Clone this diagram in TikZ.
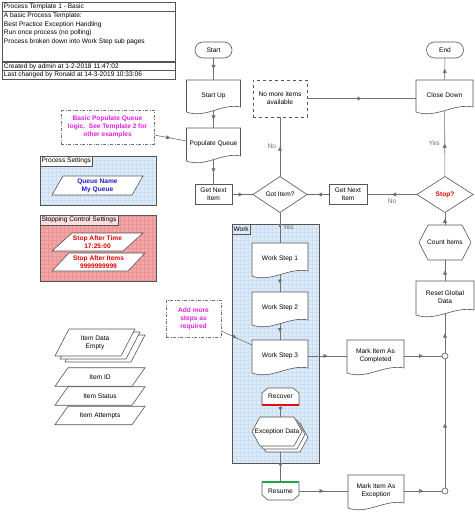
\documentclass[tikz,border=0pt]{standalone}
\usepackage{fontspec}
\setmainfont{Liberation Sans}
\usetikzlibrary{calc,decorations.markings,arrows.meta}
\pgfdeclarelayer{back}
\pgfdeclarelayer{mid}
\pgfsetlayers{back,mid,main}
\definecolor{lineg}{HTML}{707070}
\definecolor{shpg}{HTML}{555555}
\definecolor{bluef}{HTML}{DDEAF8}
\definecolor{blueg}{HTML}{CCDEF3}
\definecolor{pinkf}{HTML}{F4A5A5}
\definecolor{pinkg}{HTML}{EA9595}
\definecolor{magt}{HTML}{E020E0}
\definecolor{bluet}{HTML}{2020C0}
\definecolor{redt}{HTML}{E00000}
\definecolor{lblg}{HTML}{707070}
\definecolor{greenb}{HTML}{22A04A}
\definecolor{redb}{HTML}{E01010}
\tikzset{
  base/.style={inner sep=0pt, outer sep=0pt, align=center, font=\fontsize{6.6}{8}\selectfont},
  sz/.style 2 args={minimum width=#1pt, minimum height=#2pt},
  shp/.style={draw=shpg, fill=white, line width=0.6pt},
  txtb/.style={base, font=\fontsize{6.6}{8}\selectfont\bfseries},
  conn/.style={draw=lineg, line width=0.6pt},
  marr/.style={conn, postaction={decorate}, decoration={markings, mark=at position 0.5 with {\arrow[lineg]{Triangle[length=4pt,width=4pt]}}}},
  lbl/.style={base, text=lblg},
  ib/.style={draw=shpg, line width=0.6pt},
  itxt/.style={base, anchor=west},
  gridl/.style={line width=0.2pt, step=4pt},
  notebox/.style={base, draw=lineg, dash pattern=on 3pt off 1.5pt on 1pt off 1.5pt, line width=0.6pt, fill=white, text=magt, font=\fontsize{6.6}{8}\selectfont\bfseries},
  titlebox/.style={base, draw=shpg, line width=0.5pt, anchor=north west, inner xsep=1.5pt, minimum height=10pt},
}
\newcommand\ShpDoc[1]{\begin{pgfonlayer}{mid}\path[shp] let \p1=(#1.north west), \p2=(#1.south east) in (\x1,\y1) -- (\x2,\y1) -- (\x2,\y2+4pt) .. controls ({\x1+0.65*(\x2-\x1)},\y2+8pt) and ({\x1+0.35*(\x2-\x1)},\y2-8pt) .. (\x1,\y2-1pt) -- cycle;\end{pgfonlayer}}
\newcommand\ShpHex[4]{\path[shp] ($(#1.west)+(#3,#4)$) -- ($(#1.north west)+(#2+#3,#4)$) -- ($(#1.north east)+(-#2+#3,#4)$) -- ($(#1.east)+(#3,#4)$) -- ($(#1.south east)+(-#2+#3,#4)$) -- ($(#1.south west)+(#2+#3,#4)$) -- cycle;}
\newcommand\ShpPara[4]{\path[shp] ($(#1.south west)+(#3,#4)$) -- ($(#1.north west)+(#2+#3,#4)$) -- ($(#1.north east)+(#3,#4)$) -- ($(#1.south east)+(-#2+#3,#4)$) -- cycle;}
\newcommand\ShpDia[1]{\path[shp] (#1.north) -- (#1.east) -- (#1.south) -- (#1.west) -- cycle;}
\newcommand\ShpRecover[1]{\path[shp] (#1.south west) -- ($(#1.north west)+(0,5)$) -- ($(#1.north west)+(6,0)$) -- ($(#1.north east)+(-6,0)$) -- ($(#1.north east)+(0,5)$) -- (#1.south east) -- cycle; \draw[redb, line width=1.6pt] (#1.south west) -- (#1.south east);}
\newcommand\ShpResume[1]{\path[shp] (#1.north west) -- (#1.north east) -- ($(#1.south east)+(0,-5)$) -- ($(#1.south east)+(-6,0)$) -- ($(#1.south west)+(6,0)$) -- ($(#1.south west)+(0,-5)$) -- cycle; \draw[greenb, line width=1.6pt] (#1.north west) -- (#1.north east);}
\begin{document}
\begin{tikzpicture}[x=1pt,y=-1pt]
\useasboundingbox (0,0) rectangle (474,513);
\begin{pgfonlayer}{back}
\fill[white] (0,0) rectangle (474,513);
% containers
\fill[bluef] (40,156) rectangle (156,205);
\draw[blueg, gridl] (40,205) grid (156,156);
\draw[ib] (40,156) rectangle (156,205);
\fill[pinkf] (40,215) rectangle (156,281);
\draw[pinkg, gridl] (40,281) grid (156,215);
\draw[ib] (40,215) rectangle (156,281);
\fill[bluef] (232,224) rectangle (319,463);
\draw[blueg, gridl] (232,463) grid (319,224);
\draw[ib] (232,224) rectangle (319,463);
% info box
\draw[ib] (2,2) rectangle (175,61);
\draw[ib] (2,11) -- (175,11);
\draw[ib] (2,62) rectangle (175,70.5);
\draw[ib] (2,70.5) rectangle (175,79);
\end{pgfonlayer}

% info texts
\node[itxt] (i0) at (4,6.7) {Process Template 1 - Basic};
\node[itxt] (i1) at (4,16) {A basic Process Template:};
\node[itxt] (i2) at (4,24.5) {Best Practice Exception Handling};
\node[itxt] (i3) at (4,33) {Run once process (no polling)};
\node[itxt] (i4) at (4,41.5) {Process broken down into Work Step sub pages};
\node[itxt] (i5) at (4,66.3) {Created by admin at 1-2-2018 11:47:02};
\node[itxt] (i6) at (4,74.8) {Last changed by Ronald at 14-3-2019 10:33:06};

% container titles
\node[titlebox, fill=white] (pslbl) at (40,156) {Process Settings};
\node[titlebox, fill=pinkf!35] (sclbl) at (40,215) {Stopping Control Settings};
\node[titlebox, fill=bluef] (wklbl) at (232,224) {Work};

% notes
\node[notebox, sz={93}{34}] (note1) at (107.5,127) {Basic Populate Queue\\logic.\ \ See Template 2 for\\other examples};
\node[notebox, sz={55}{37}] (note2) at (193.5,318.5) {Add more\\steps as\\required};

% settings parallelograms
\node[txtb, text=bluet, sz={91}{19}] (qname) at (97.5,185.5) {Queue Name\\My Queue};
\node[txtb, text=redt, sz={91}{18}] (stime) at (97.5,242) {Stop After Time\\17:25:00};
\node[txtb, text=redt, sz={93}{18}] (sitems) at (98.5,262) {Stop After Items\\9999999999};
\begin{pgfonlayer}{mid}
\ShpPara{qname}{11}{0}{0}
\ShpPara{stime}{20}{0}{0}
\ShpPara{sitems}{17}{0}{0}
\end{pgfonlayer}

% data items
\node[base, sz={80}{27}] (idata) at (95,342.5) {Item Data\\Empty};
\node[base, sz={90}{18.5}] (iid) at (100,377) {Item ID};
\node[base, sz={90}{18.5}] (istat) at (100,396) {Item Status};
\node[base, sz={90}{18.5}] (iatt) at (100,415.5) {Item Attempts};
\begin{pgfonlayer}{mid}
\ShpPara{idata}{14}{10}{6}
\ShpPara{idata}{14}{5}{3}
\ShpPara{idata}{14}{0}{0}
\ShpPara{iid}{13}{0}{0}
\ShpPara{istat}{13}{0}{0}
\ShpPara{iatt}{13}{0}{0}
\end{pgfonlayer}

% main flow nodes
\node[base, sz={37}{16}, draw=shpg, line width=0.6pt, rounded corners=8pt, fill=white] (start) at (213.5,50) {Start};
\node[base, sz={37}{16}, draw=shpg, line width=0.6pt, rounded corners=8pt, fill=white] (endn) at (445,50) {End};
\node[base, sz={54}{31}] (startup) at (213.5,95.5) {Start Up};
\ShpDoc{startup}
\node[base, sz={54}{32}] (popq) at (213.5,144) {Populate Queue};
\ShpDoc{popq}
\node[base, sz={37}{20}, draw=shpg, line width=0.6pt, fill=white] (gnl) at (213.5,194.5) {Get Next\\Item};
\node[base, sz={54}{36}] (gotitem) at (280,194.5) {Got Item?};
\node[base, sz={54}{37}, draw=shpg, line width=0.6pt, dashed, fill=white] (nomore) at (280,98.5) {No more items\\available};
\node[base, sz={57}{31}] (closedown) at (444.5,95.5) {Close Down};
\ShpDoc{closedown}
\node[base, sz={38}{20}, draw=shpg, line width=0.6pt, fill=white] (gnr) at (348,194.5) {Get Next\\Item};
\node[txtb, text=redt, sz={56}{36}] (stop) at (445,194.5) {Stop?};
\node[base, sz={52}{35}] (count) at (445,242.5) {Count Items};
\node[base, sz={58}{33}] (reset) at (445,297.5) {Reset Global\\Data};
\ShpDoc{reset}
\node[base, circle, draw=shpg, line width=0.6pt, fill=white, minimum size=6pt] (jtop) at (445,356) {};
\node[base, circle, draw=shpg, line width=0.6pt, fill=white, minimum size=6pt] (jbot) at (445,491) {};
\node[base, sz={57}{32}] (mic) at (375.5,356) {Mark Item As\\Completed};
\ShpDoc{mic}
\node[base, sz={56}{32}] (mie) at (376,491) {Mark Item As\\Exception};
\ShpDoc{mie}
\node[base, sz={56}{32}] (ws1) at (280,259) {Work Step 1};
\ShpDoc{ws1}
\node[base, sz={56}{32}] (ws2) at (280,308) {Work Step 2};
\ShpDoc{ws2}
\node[base, sz={56}{32}] (ws3) at (280,356) {Work Step 3};
\ShpDoc{ws3}
\node[base, sz={37}{17}] (recover) at (280.5,396.5) {Recover};
\node[base, sz={50}{29}] (exc) at (277,431.5) {Exception Data};
\node[base, sz={37}{18}] (resume) at (280.5,491) {Resume};
\coordinate (excb) at (280.5,452);
\begin{pgfonlayer}{mid}
\ShpDia{gotitem}
\ShpDia{stop}
\ShpHex{count}{9}{0}{0}
\ShpHex{exc}{8}{6}{6}
\ShpHex{exc}{8}{3}{3}
\ShpHex{exc}{8}{0}{0}
\ShpRecover{recover}
\ShpResume{resume}
\end{pgfonlayer}

% connectors
\draw[marr] (start) -- (startup);
\draw[marr] (startup) -- (popq);
\draw[marr] (popq) -- (gnl);
\draw[marr] (gnl) -- (gotitem);
\draw[marr] (gotitem) -- (nomore) node[lbl, pos=0.5, left=4pt] (lno1) {No};
\draw[marr] (nomore) -- (nomore -| closedown.west);
\draw[marr] (closedown) -- (endn);
\draw[marr] (stop) -- (closedown) node[lbl, pos=0.5, left=5pt] (lyes1) {Yes};
\draw[marr] (stop) -- (gnr) node[lbl, pos=0.5, below=4pt] (lno2) {No};
\draw[marr] (gnr) -- (gotitem);
\draw[marr] (count) -- (stop);
\draw[marr] (reset) -- (count);
\draw[marr] (jtop) -- (reset);
\draw[marr] (jbot) -- (jtop);
\draw[marr] (gotitem) -- (ws1) node[lbl, pos=0.5, right=3pt] (lyes2) {Yes};
\draw[marr] (ws1) -- (ws2);
\draw[marr] (ws2) -- (ws3);
\draw[marr] (ws3) -- (mic);
\draw[marr] (mic) -- (jtop);
\draw[marr] (recover) -- (recover |- exc.north);
\draw[marr] (excb) -- (resume);
\draw[marr] (resume) -- (mie);
\draw[marr] (mie) -- (jbot);
\draw[marr] ($(note1.east)+(0,8)$) -- ($(popq.west)+(0,-3)$);
\draw[marr] ($(note2.east)+(0,12.5)$) -- ($(ws3.west)+(0,-11)$);
\end{tikzpicture}
\end{document}
